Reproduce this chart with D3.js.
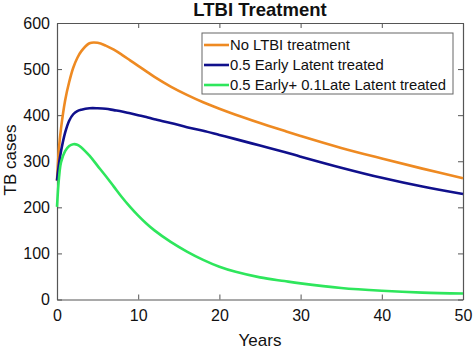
<!DOCTYPE html>
<html>
<head>
<meta charset="utf-8">
<script src="https://cdn.jsdelivr.net/npm/d3@7"></script>
<style>
  body { margin: 0; background: #fff; }
  svg text { font-family: Arial, "Liberation Sans", sans-serif; fill: #111; }
</style>
</head>
<body>
<svg width="474" height="349"></svg>
<script>
// data
var years      = [0, 0.25, 0.5, 1, 1.5, 2, 2.5, 3, 4, 5, 6, 7, 8, 9, 10, 11, 12, 14, 16, 18, 20, 22, 25, 28, 30, 35, 40, 45, 50];
var noTreat    = [258, 330, 372, 432, 472, 503, 524, 539, 556, 557, 551, 542, 531, 519, 507, 495, 483, 462, 444, 428, 414, 401, 383, 366, 355, 329, 306, 284, 263];
var earlyHalf  = [258, 295, 322, 362, 388, 402, 409, 412, 415, 415, 414, 411, 408, 404, 400, 396, 391, 383, 374, 366, 357, 348, 334, 320, 310, 286, 264, 245, 229];
var earlyLate  = [201, 265, 298, 322, 333, 337, 336, 330, 312, 290, 268, 245, 222, 201, 182, 165, 150, 125, 104, 86, 71, 60, 48, 40, 35, 25, 19, 15, 13];
var seriesNames = ["No LTBI treatment", "0.5 Early Latent treated", "0.5 Early+ 0.1Late Latent treated"];
var seriesColors = ["#ee8a22", "#10108c", "#2ee65c"];
var xTicks = [0, 10, 20, 30, 40, 50];
var yTicks = [0, 100, 200, 300, 400, 500, 600];

var svg = d3.select('svg');
var mLeft = 57, mRight = 463, mTop = 23, mBottom = 299.5;

var x = d3.scaleLinear().domain([0, 50]).range([mLeft, mRight]);
var y = d3.scaleLinear().domain([0, 600]).range([mBottom, mTop]);

// axes (matlab style box, ticks inside)
var axisColor = '#555';
var gx = svg.append('g').attr('transform', 'translate(0,' + mBottom + ')')
    .call(d3.axisBottom(x).tickValues(xTicks).tickSizeInner(-5).tickSizeOuter(0).tickPadding(10));
var gy = svg.append('g').attr('transform', 'translate(' + mLeft + ',0)')
    .call(d3.axisLeft(y).tickValues(yTicks).tickSizeInner(-5).tickSizeOuter(0).tickPadding(7));
var gxt = svg.append('g').attr('transform', 'translate(0,' + mTop + ')')
    .call(d3.axisTop(x).tickValues(xTicks).tickSizeInner(-5).tickSizeOuter(0).tickFormat(''));
var gyr = svg.append('g').attr('transform', 'translate(' + mRight + ',0)')
    .call(d3.axisRight(y).tickValues(yTicks).tickSizeInner(-5).tickSizeOuter(0).tickFormat(''));

[gx, gy, gxt, gyr].forEach(function(g){
    g.selectAll('path').attr('stroke', axisColor).attr('stroke-width', 1.2);
    g.selectAll('line').attr('stroke', axisColor).attr('stroke-width', 1);
    g.selectAll('text').style('font-size', '16px').attr('fill', '#111')
	.style('font-family', 'Arial, "Liberation Sans", sans-serif');
});

// lines
var line = d3.line()
    .x(function(d){ return x(d[0]); })
    .y(function(d){ return y(d[1]); })
    .curve(d3.curveCatmullRom.alpha(0.5));

[noTreat, earlyHalf, earlyLate].forEach(function(vals, i){
    svg.append('path')
	.datum(years.map(function(t, j){ return [t, vals[j]]; }))
	.attr('fill', 'none')
	.attr('stroke', seriesColors[i])
	.attr('stroke-width', 2.6)
	.attr('d', line);
});

// titles
svg.append('text').attr('x', 260).attr('y', 16).attr('text-anchor', 'middle')
    .style('font-size', '18.5px').style('font-weight', 'bold').text('LTBI Treatment');
svg.append('text').attr('x', 260).attr('y', 346).attr('text-anchor', 'middle')
    .style('font-size', '17px').text('Years');
svg.append('text').attr('transform', 'translate(16,160) rotate(-90)').attr('text-anchor', 'middle')
    .style('font-size', '17px').text('TB cases');

// legend
var lg = svg.append('g');
lg.append('rect').attr('x', 202).attr('y', 33).attr('width', 251).attr('height', 61)
    .attr('fill', '#fff').attr('stroke', '#666').attr('stroke-width', 1);
seriesNames.forEach(function(name, i){
    var ry = 45 + i * 20;
    lg.append('line').attr('x1', 204).attr('x2', 229).attr('y1', ry).attr('y2', ry)
	.attr('stroke', seriesColors[i]).attr('stroke-width', 2.6);
    lg.append('text').attr('x', 230).attr('y', ry + 5).style('font-size', '14.8px').text(name);
});
</script>
</body>
</html>
